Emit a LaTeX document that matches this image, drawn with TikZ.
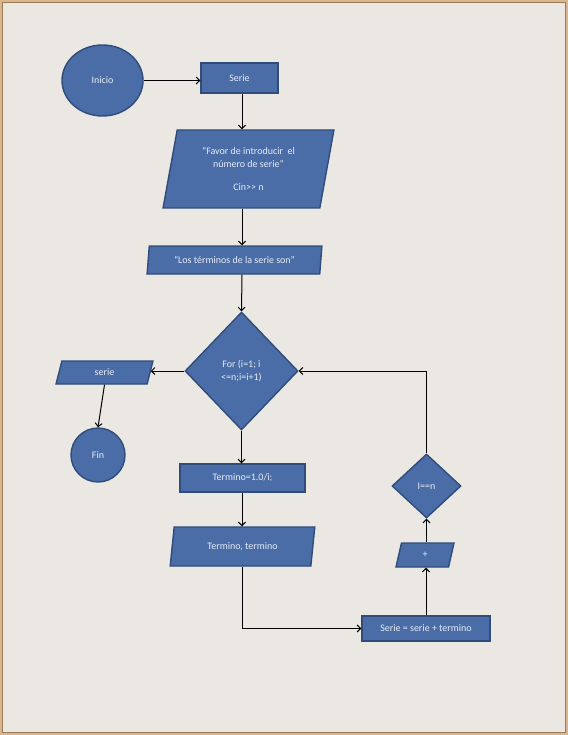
\documentclass[tikz,border=0pt]{standalone}
\usepackage{fontspec}
\setmainfont{Carlito}
\usepackage{tikz}
\usetikzlibrary{positioning,arrows.meta,shapes.geometric}
\definecolor{shapefill}{HTML}{4A6DA7}
\definecolor{shapeline}{HTML}{2F4C7A}
\definecolor{shapetext}{HTML}{E6ECF6}
\definecolor{pagebg}{HTML}{EBE8E4}
\definecolor{pageedge}{HTML}{D9B78E}
\definecolor{pageline}{HTML}{9C7A52}

\begin{document}
\begin{tikzpicture}[x=1pt, y=-1pt,
    base/.style={draw=shapeline, line width=1.4pt, fill=shapefill, text=shapetext, font=\fontsize{10}{13}\selectfont, inner sep=0pt, align=center},
    box/.style={base, rectangle},
    io/.style={base, trapezium, trapezium left angle=78, trapezium right angle=102, trapezium stretches=true},
    decision/.style={base, diamond},
    terminal/.style={base, ellipse},
    arr/.style={-{Straight Barb[length=3.5pt, width=7pt]}, line width=1pt, draw=black}
]
    % page
    \useasboundingbox (0,0) rectangle (568,735);
    \fill[pageedge] (0,0) rectangle (568,735);
    \filldraw[fill=pagebg, draw=pageline, line width=1pt] (2.5,2.5) rectangle (565.5,732.5);
    \coordinate (col) at (242,0);

    \node[terminal, minimum width=81pt, minimum height=71pt] (inicio) at (102.5,80.5) {Inicio};
    \node[box, minimum width=77pt, minimum height=30pt] (serie) at (239.5,78) {Serie};
    \node[io, minimum width=171pt, minimum height=78pt] (datos) at (248.5,169) {“Favor de introducir\ \ el\\número de serie”\\[10pt]Cin>{}> n};
    \node[io, minimum width=175pt, minimum height=28pt] (mensaje) at (234.5,260) {“Los términos de la serie son”};
    \node[decision, minimum width=113pt, minimum height=118pt] (ciclo) at (241.5,371) {For (i=1; i\\<=n;i=i+1)};
    \node[io, minimum width=97pt, minimum height=23pt, trapezium left angle=79, trapezium right angle=101] (salida) at (104.5,372.5) {serie};
    \node[base, circle, minimum size=54pt] (fin) at (98,455) {Fin};
    \node[box, minimum width=125pt, minimum height=28pt] (termino) at (242.5,478) {Termino=1.0/i;};
    \node[io, minimum width=145pt, minimum height=39pt, trapezium left angle=76, trapezium right angle=104] (imprime) at (242.5,546.5) {Termino, termino};
    \node[box, minimum width=128pt, minimum height=25pt] (suma) at (426,628.5) {Serie = serie + termino};
    \node[io, minimum width=58pt, minimum height=24pt, trapezium left angle=84, trapezium right angle=96] (mas) at (425,555) {+};
    \node[decision, minimum width=69pt, minimum height=64pt] (cond) at (426.5,486) {I==n};

    \draw[arr] (inicio.east) -- (serie.west |- inicio.east);
    \draw[arr] (serie.south -| col) -- (datos.north -| col);
    \draw[arr] (datos.south -| col) -- (mensaje.north -| col);
    \draw[arr] (mensaje.south -| col) -- (ciclo.north);
    \draw[arr] (ciclo.west) -- (salida.east |- ciclo.west);
    \draw[arr] (salida.south) -- (fin.north);
    \draw[arr] (ciclo.south) -- (termino.north -| ciclo.south);
    \draw[arr] (termino.south -| col) -- (imprime.north -| col);
    \draw[arr] (imprime.south -| col) |- (suma.west);
    \draw[arr] (suma.north) -- (mas.south -| suma.north);
    \draw[arr] (mas.north -| cond.south) -- (cond.south);
    \draw[arr] (cond.north) |- (ciclo.east);
\end{tikzpicture}
\end{document}
